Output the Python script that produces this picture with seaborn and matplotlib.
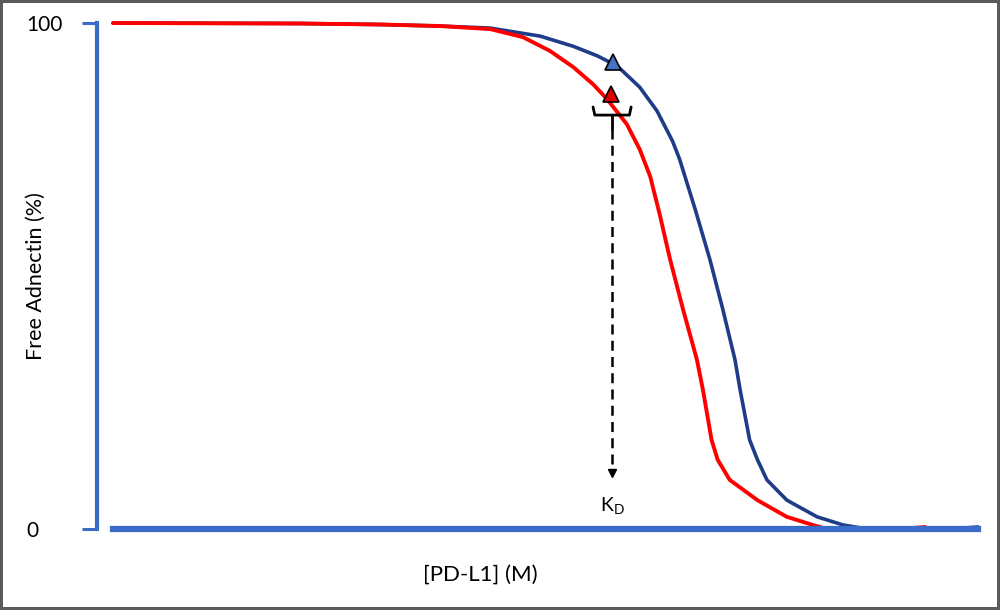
import numpy as np
import pandas as pd
import seaborn as sns
import matplotlib.pyplot as plt

# curve values (x: arbitrary concentration units, y: % free)
conc_red = [0, 21.6, 30.9, 37.8, 43.6, 47.4, 50.5, 53.2, 55.5, 57.1, 59.4, 60.9,
            62.1, 63.2, 64.4, 65.9, 67.5, 68.2, 69.2, 69.9, 71.3, 74.5, 77.9,
            80.9, 82.5, 91.0, 93.9]
free_red = [100, 99.9, 99.7, 99.4, 98.8, 97.2, 94.5, 91.3, 87.9, 85.0, 80.0, 75.0,
            69.7, 62.2, 53.3, 43.4, 33.5, 27.5, 17.6, 13.7, 9.7, 5.7, 2.4,
            0.8, 0, 0, 0.4]
conc_blue = [0, 21.6, 30.9, 37.8, 43.6, 49.4, 53.2, 56.0, 58.3, 60.9, 62.9, 64.7,
             65.5, 67.3, 69.0, 70.5, 71.9, 72.5, 73.6, 74.5, 75.6, 77.9, 81.4,
             84.4, 87.2, 96.8, 100]
free_blue = [100, 99.9, 99.7, 99.4, 99.0, 97.4, 95.4, 93.5, 91.5, 87.3, 82.6, 76.6,
             73.1, 63.2, 53.3, 43.4, 33.5, 27.5, 17.6, 13.7, 9.7, 5.7, 2.4,
             0.8, 0, 0, 0.4]

# triangle markers
mark_x = [57.8, 57.6]
mark_y = [92.3, 85.9]
mark_col = ['#4472C4', '#E00000']

kd_x = 57.7
yticks = [0, 100]
ytick_labels = ['0', '100']

sns.set_theme(style='white')
plt.rcParams['font.family'] = ['Lato', 'DejaVu Sans']
plt.rcParams['mathtext.fontset'] = 'custom'
plt.rcParams['mathtext.rm'] = 'Lato'

axis_blue = '#3A6BC9'

fig = plt.figure(figsize=(10, 6.1), dpi=100)
fig.patch.set_edgecolor('#5a5a5a')
fig.patch.set_linewidth(3)
ax = fig.add_axes([97 / 1000, 81 / 610, 881 / 1000, 506 / 610])

df_blue = pd.DataFrame({'conc': conc_blue, 'free': free_blue})
df_red = pd.DataFrame({'conc': conc_red, 'free': free_red})
sns.lineplot(data=df_blue, x='conc', y='free', color='#1F3C88', linewidth=2.6,
             ax=ax, clip_on=False, zorder=2, solid_joinstyle='round')
sns.lineplot(data=df_red, x='conc', y='free', color='#FF0000', linewidth=2.8,
             ax=ax, clip_on=False, zorder=2.2, solid_joinstyle='round')

for mx, my, mc in zip(mark_x, mark_y, mark_col):
    ax.plot(mx, my, marker='^', markersize=12, color=mc, markeredgecolor='black',
            markeredgewidth=1.2, zorder=4, linestyle='none')

# brace under the red triangle
bw = 2.2
ax.plot([kd_x - bw, kd_x - bw + 0.2, kd_x + bw - 0.2, kd_x + bw],
        [83.4, 81.8, 81.8, 83.4], color='black', lw=2, zorder=4)
ax.plot([kd_x, kd_x], [81.8, 79.0], color='black', lw=2, zorder=4)
# dashed drop to K_D
ax.plot([kd_x, kd_x], [79.0, 12.0], color='black', lw=1.8, linestyle=(0, (4, 2.5)), zorder=4)
ax.plot(kd_x, 11.0, marker='v', markersize=6, color='black', zorder=4)
ax.text(kd_x, 4.6, r'$\mathrm{K_D}$', ha='center', va='center', fontsize=14, color='black')

ax.set_xlim(-16 / 865 * 100, 100)
ax.set_ylim(0, 100)

for s in ['top', 'right']:
    ax.spines[s].set_visible(False)
ax.spines['left'].set_color(axis_blue)
ax.spines['left'].set_linewidth(3)
ax.spines['bottom'].set_color(axis_blue)
ax.spines['bottom'].set_linewidth(4.5)
ax.spines['bottom'].set_bounds(0, 100)

ax.set_xticks([])
ax.set_yticks(yticks)
ax.set_yticklabels(ytick_labels, fontsize=15, color='black')
ax.tick_params(axis='y', direction='out', length=11, width=2.2, color=axis_blue,
               left=True, pad=40)
for lab in ax.get_yticklabels():
    lab.set_horizontalalignment('left')

ax.set_xlabel('[PD-L1] (M)', fontsize=16, color='black')
ax.xaxis.set_label_coords(0.435, -0.070)
ax.set_ylabel('Free Adnectin (%)', fontsize=15.5, color='black')
ax.yaxis.set_label_coords(-0.058, 0.5)

fig.savefig('out.png', dpi=100)
